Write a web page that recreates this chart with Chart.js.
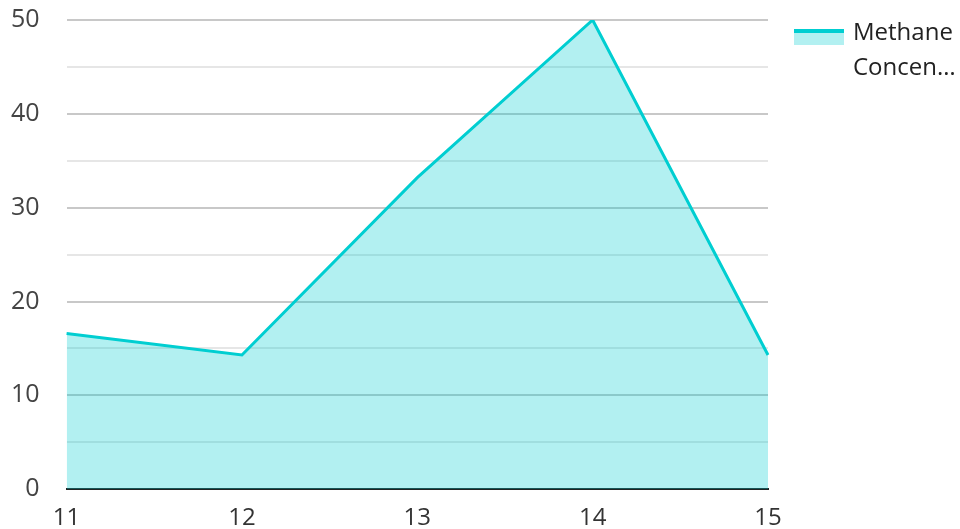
<!DOCTYPE html>
<html>
<head>
<meta charset="utf-8">
<style>
  html, body { margin: 0; padding: 0; background: #fff; }
  #wrap { width: 960px; height: 529px; position: relative; }
</style>
<script src="https://cdn.jsdelivr.net/npm/chart.js@4"></script>
</head>
<body>
<div id="wrap"><canvas id="chart"></canvas></div>
<script>
// data
const categories = ["11", "12", "13", "14", "15"];
const methane = [16.6, 14.3, 33.2, 50, 14.3];
const seriesLabel = ["Methane", "Concen…"];

const lineColor = "#00CED1";
const fillColor = "rgba(0,206,209,0.3)";

// legend on the right, two lines of text
const sideLegend = {
    id: "sideLegend",
    afterDraw(chart) {
        const ctx = chart.ctx;
        const x = 794, y = 29;
        ctx.save();
        ctx.fillStyle = fillColor;
        ctx.fillRect(x, y, 50, 16);
        ctx.fillStyle = lineColor;
        ctx.fillRect(x, y, 50, 4);
        ctx.fillStyle = "#222";
        ctx.font = "24px 'Open Sans'";
        ctx.textBaseline = "middle";
        ctx.fillText(seriesLabel[0], 853, 33);
        ctx.fillText(seriesLabel[1], 853, 68);
        ctx.restore();
    }
};

new Chart(document.getElementById("chart"), {
    type: "line",
    data: {
        labels: categories,
        datasets: [{
            label: seriesLabel.join(" "),
            data: methane,
            borderColor: lineColor,
            backgroundColor: fillColor,
            borderWidth: 3,
            fill: "origin",
            pointRadius: 0,
            tension: 0
        }]
    },
    options: {
        responsive: true,
        maintainAspectRatio: false,
        animation: false,
        layout: { padding: { top: 20, right: 192, left: -16, bottom: -19 } },
        plugins: {
            legend: { display: false },
            tooltip: { enabled: false }
        },
        scales: {
            x: {
                offset: false,
                grid: { display: false, drawTicks: false },
                border: { display: true, color: "#222", width: 2 },
                ticks: {
                    color: "#333",
                    padding: 15,
                    maxRotation: 0,
                    font: { family: "Open Sans", size: 24 }
                }
            },
            y: {
                min: 0,
                max: 50,
                afterFit: (scale) => { scale.paddingTop = 0; scale.paddingBottom = 0; },
                grid: {
                    drawTicks: false,
                    color: (c) => (c.tick && c.tick.value % 10 === 0) ? "#c8c8c8" : "#e6e6e6",
                    lineWidth: 2
                },
                border: { display: false },
                ticks: {
                    stepSize: 5,
                    color: "#444",
                    padding: 27,
                    font: { family: "Open Sans", size: 25 },
                    callback: (v) => v % 10 === 0 ? v : ""
                }
            }
        }
    },
    plugins: [sideLegend]
});
</script>
</body>
</html>
